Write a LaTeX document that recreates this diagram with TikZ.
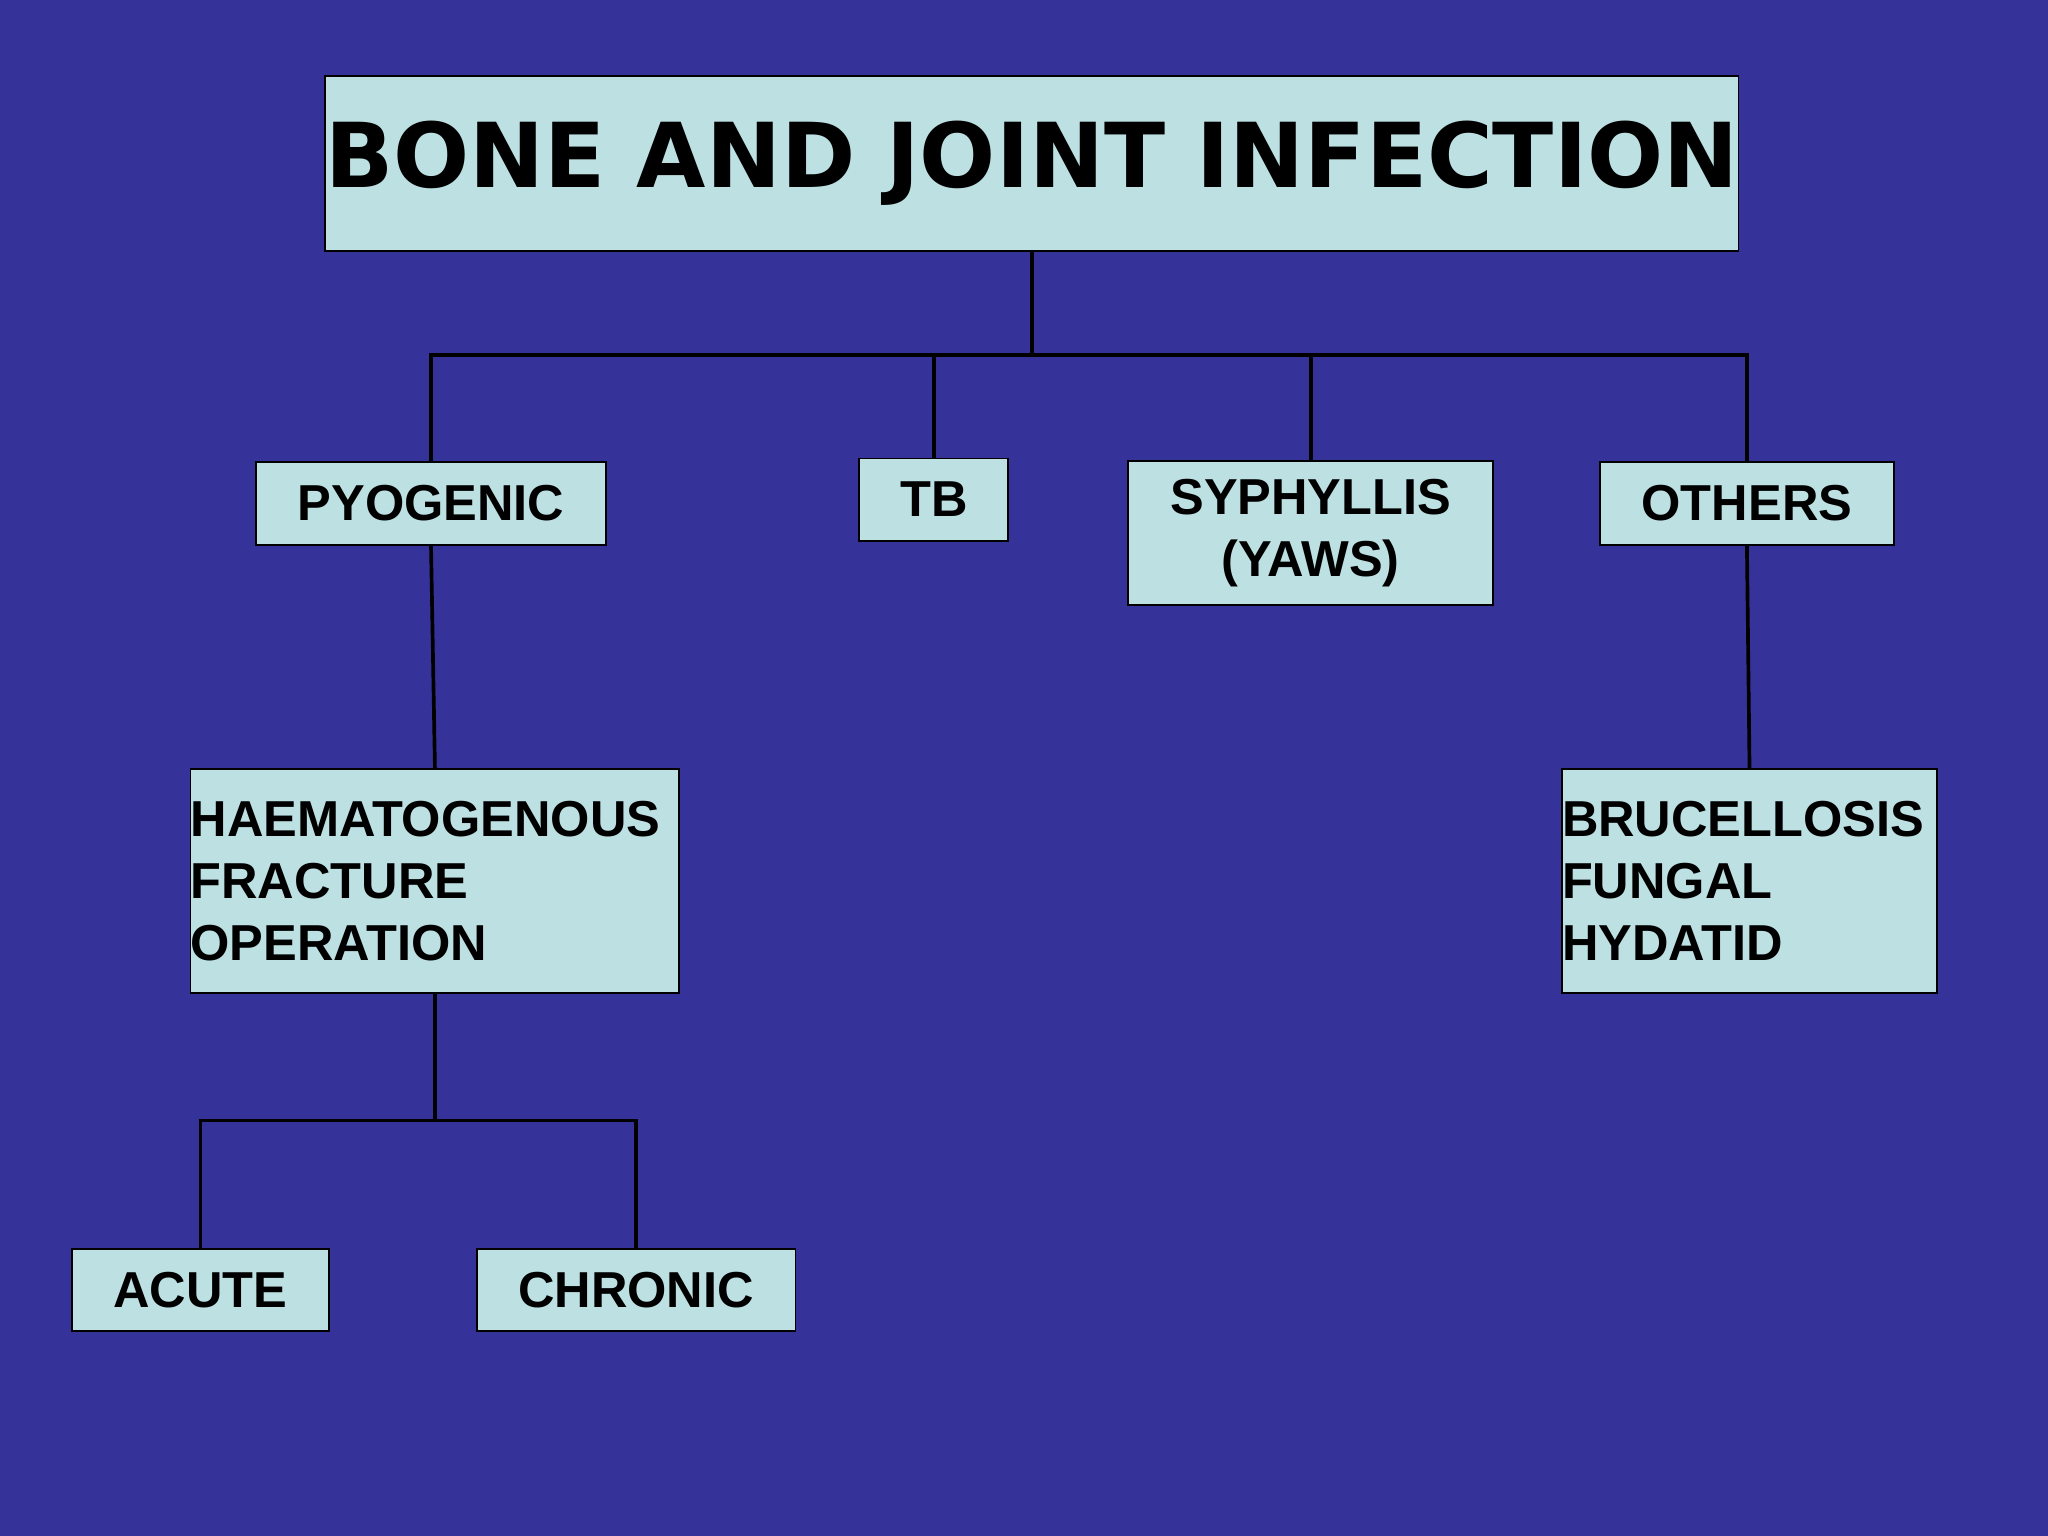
\documentclass[tikz,border=0pt]{standalone}
\usepackage{fontspec}
\setmainfont{Liberation Sans}
\newfontfamily\titlefont{DejaVu Sans}
\usetikzlibrary{calc}
\definecolor{slidebg}{HTML}{35339A}
\definecolor{boxfill}{HTML}{BDE0E3}
\tikzset{
  box/.style={rectangle, draw=black, fill=boxfill, inner sep=0pt, text centered, font=\fontsize{11}{13.5}\selectfont\bfseries},
  listbox/.style={box, align=left, text width=#1},
  link/.style={draw=black, line width=0.8pt}
}

\begin{document}
\begin{tikzpicture}[x=0.01cm, y=-0.01cm]
    \fill[slidebg] (0,0) rectangle (1568,1176);
    \useasboundingbox (0,0) rectangle (1568,1176);

    \node (infection) [box, minimum width=9.74cm, minimum height=1.34cm, font=\titlefont\fontsize{19.5}{22}\selectfont\bfseries] at (790,125) {BONE AND JOINT INFECTION};
    \node (pyogenic) [box, minimum width=2.68cm, minimum height=0.63cm] at (330,385.5) {PYOGENIC};
    \node (tb) [box, minimum width=1.14cm, minimum height=0.63cm] at (715,382.5) {TB};
    \node (syphyllis) [box, minimum width=2.79cm, minimum height=1.10cm, align=center] at (1003.5,408) {SYPHYLLIS\\(YAWS)};
    \node (others) [box, minimum width=2.25cm, minimum height=0.63cm] at (1337.5,385.5) {OTHERS};
    \node (haemat) [listbox=3.74cm, minimum height=1.71cm] at (333,674.5) {HAEMATOGENOUS\\FRACTURE\\OPERATION};
    \node (brucellosis) [listbox=2.87cm, minimum height=1.71cm] at (1339.5,674.5) {BRUCELLOSIS\\FUNGAL\\HYDATID};
    \node (acute) [box, minimum width=1.97cm, minimum height=0.63cm] at (153.5,987.5) {ACUTE};
    \node (chronic) [box, minimum width=2.44cm, minimum height=0.63cm] at (487,987.5) {CHRONIC};

    \coordinate (bus) at (790,272);
    \coordinate (subbus) at (333,858);

    \draw [link] (infection.south) -- (bus);
    \draw [link] (bus) -| (pyogenic.north);
    \draw [link] (bus) -| (tb.north);
    \draw [link] (bus) -| (syphyllis.north);
    \draw [link] (bus) -| (others.north);
    \draw [link] (pyogenic.south) -- (haemat.north);
    \draw [link] (others.south) -- (brucellosis.north);
    \draw [link] (haemat.south) -- (subbus);
    \draw [link] (subbus) -| (acute.north);
    \draw [link] (subbus) -| (chronic.north);
\end{tikzpicture}
\end{document}
